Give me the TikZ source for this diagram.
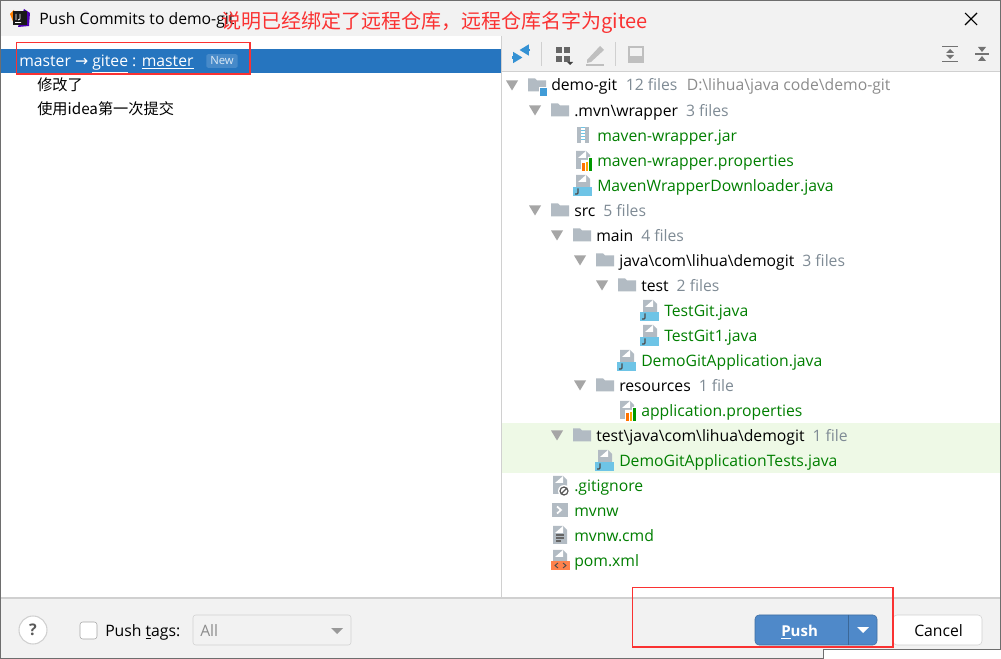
\documentclass[tikz,border=0pt]{standalone}
\usepackage{fontspec}
\setmainfont{Open Sans}
\newfontfamily\cjk{Noto Sans CJK SC}
\newfontfamily\symf{DejaVu Sans}
\usetikzlibrary{arrows.meta,positioning,calc}

\definecolor{barbg}{HTML}{F2F2F2}
\definecolor{linegray}{HTML}{D0D0D0}
\definecolor{framegray}{HTML}{6E6E6E}
\definecolor{selblue}{HTML}{2675BF}
\definecolor{pushblue}{HTML}{4F89C9}
\definecolor{annored}{HTML}{FA3232}
\definecolor{treegreen}{HTML}{007F00}
\definecolor{cntgray}{HTML}{7F8B95}
\definecolor{pathgray}{HTML}{8C8C8C}
\definecolor{icongray}{HTML}{B2BBC3}
\definecolor{iconblue}{HTML}{6EC4E6}
\definecolor{arrowblue}{HTML}{3592D4}
\definecolor{changedbg}{HTML}{EEF9E6}

\newcommand{\bs}{\textbackslash}

\tikzset{
  uitext/.style={anchor=base west, inner sep=0pt, font=\fontsize{11.8pt}{13pt}\selectfont},
  dirname/.style={uitext, text=black},
  filename/.style={uitext, text=treegreen},
  commitname/.style={uitext, font=\fontsize{11.4pt}{13pt}\selectfont\cjk},
  redbox/.style={draw=annored, line width=0.8pt},
  tri/.pic={\fill[gray!70] (-6,-4.5) -- (6,-4.5) -- (0,5.5) -- cycle;},
  foldericon/.pic={\fill[icongray] (-9,-6.5) -- (-2,-6.5) -- (0,-4.5) -- (9,-4.5) -- (9,6.5) -- (-9,6.5) -- cycle;},
  rootfolder/.pic={
    \fill[icongray] (-9,-6.5) -- (-2,-6.5) -- (0,-4.5) -- (9,-4.5) -- (9,6.5) -- (-9,6.5) -- cycle;
    \fill[white] (2,2) rectangle (10,11);
    \fill[arrowblue!80!iconblue] (3,3) rectangle (10,11);
  },
  pagebase/.pic={\fill[icongray] (-7,-9) -- (3,-9) -- (7,-5) -- (7,9) -- (-7,9) -- cycle;
    \fill[white] (-5,-2) -- (3,-9) -- (3,-2) -- cycle;},
  jaricon/.pic={
    \fill[icongray] (-6,-8) rectangle (6,8);
    \fill[white] (-2,-8) rectangle (2,8);
    \foreach \s in {-7,-4,...,7} {\fill[iconblue] (-2,\s-1) rectangle (2,\s);}
  },
  propicon/.pic={
    \pic {pagebase};
    \fill[white] (-2,0) -- (5,0) -- (5,-3) -- (10,-3) -- (10,11) -- (-2,11) -- cycle;
    \fill[orange!90!red] (-1,3) rectangle (2,11);
    \fill[orange!70!yellow] (3,2) rectangle (5,11);
    \fill[green!60!black] (6,-2) rectangle (9,11);
  },
  javaicon/.pic={
    \pic at (0,-1) {pagebase};
    \fill[iconblue] (-10,2) rectangle (9,11);
    \draw[black!70, line width=0.9pt] (-5,3.5) -- (-5,8) -- (-6,9) -- (-8,9);
  },
  ignoreicon/.pic={
    \pic {pagebase};
    \fill[white] (4,6) circle (6);
    \draw[black!65, line width=0.9pt] (4,6) circle (4) (1.5,8.5) -- (6.5,3.5);
  },
  termicon/.pic={
    \fill[icongray] (-8,-7) rectangle (8,7);
    \draw[white, line width=1.3pt] (-3,-3.5) -- (1,0) -- (-3,3.5);
  },
  cmdicon/.pic={
    \pic {pagebase};
    \draw[black!60, line width=0.8pt] (-4,0) -- (4,0) (-4,3) -- (4,3) (-4,6) -- (1,6);
  },
  xmlicon/.pic={
    \pic at (0,-1) {pagebase};
    \fill[orange!60!red!70!white] (-9,1) rectangle (10,10);
    \draw[black!70, line width=0.7pt] (-2,3) -- (-5,5.5) -- (-2,8) (3,3) -- (6,5.5) -- (3,8);
  }
}

\begin{document}
\begin{tikzpicture}[x=0.75pt, y=-0.75pt]
  \useasboundingbox (0,0) rectangle (1001,659);

  % Panels
  \fill[white] (0,0) rectangle (1001,659);
  \fill[barbg] (0,0) rectangle (1001,36);
  \fill[barbg] (502,36) rectangle (1001,71);
  \fill[changedbg] (502,423) rectangle (1001,473);
  \fill[barbg] (0,598) rectangle (1001,659);
  \fill[selblue] (1,49) rectangle (501,73);
  \draw[linegray] (501.5,36) -- (501.5,598);
  \draw[linegray] (502,71.5) -- (1001,71.5);
  \draw[linegray, line width=1.3pt] (0,598) -- (1001,598);

  % Title bar
  \fill[orange] (10,14) -- (14,10) -- (14,24) -- cycle;
  \fill[blue!70!red] (24,9) -- (30,13) -- (29,26) -- (18,27) -- cycle;
  \fill[black!90] (13,11) rectangle (27,25);
  \draw[white, line width=0.6pt] (16,14) -- (16,20) (20,14) -- (20,19) -- (18,20) (15,22.5) -- (21,22.5);
  \node[uitext] (title) at (39,25) {Push Commits to demo-git};
  \draw[line width=0.8pt] (965,13) -- (977,25) (977,13) -- (965,25);

  % Commit list
  \node[uitext, text=white] (branch) at (19,66.5) {master {\symf →} \underline{gitee} : \underline{master}};
  \node[fill=white!15!selblue, rounded corners=1.5pt, inner xsep=3pt, inner ysep=2pt, text=white!85!selblue, font=\fontsize{8.5pt}{10pt}\selectfont] (newtag) at (222,61) {New};
  \node[commitname] (commita) at (37,91) {修改了};
  \node[commitname] (commitb) at (37,115) {使用idea第一次提交};

  % Toolbar
  \draw[-{Stealth[length=7pt,width=8pt,inset=0pt]}, arrowblue, line width=1.6pt] (512,57.5) -- (522.5,57.5);
  \draw[-{Stealth[length=7pt,width=8pt,inset=0pt]}, arrowblue, line width=1.6pt] (530,50) -- (519.5,50);
  \foreach \x in {541,615} {
    \draw[linegray] (\x.5,42) -- (\x.5,66);
  }
  \foreach \x/\y in {556/47, 564/47, 556/56, 564/56} {
    \fill[black!60] (\x,\y) rectangle ++(6,6);
  }
  \fill[black!75] (567,62) -- (573,62) -- (570,65) -- cycle;
  \fill[black!25] (587,60) -- (600,46) -- (604,50) -- (591,62) -- (587,63) -- cycle;
  \fill[black!25] (586,64) rectangle (604,66);
  \fill[black!25] (628,46) rectangle (644,63);
  \fill[barbg] (630,48) rectangle (642,56);
  \draw[black!55, line width=1.3pt] (942,46.5) -- (958,46.5) (942,61.5) -- (958,61.5);
  \fill[black!55] (950,49) -- (954,53) -- (946,53) -- cycle (950,59) -- (954,55) -- (946,55) -- cycle;
  \draw[black!55, line width=1.3pt] (975,54) -- (989,54);
  \fill[black!55] (982,52) -- (978,47) -- (986,47) -- cycle (982,56) -- (978,61) -- (986,61) -- cycle;

  % Tree folders
  \pic at (512,85) {tri};
  \pic at (537,85) {rootfolder};
  \node[dirname] (root) at (551,91) {demo-git\hspace{6.5pt}{\color{cntgray}12 files}\hspace{7pt}{\color{pathgray}D:\bs lihua\bs java code\bs demo-git}};
  \foreach \x/\y/\name/\cnt in {
      574/110/.mvn\bs wrapper/3 files,
      574/210/src/5 files,
      596/235/main/4 files,
      619/260/java\bs com\bs lihua\bs demogit/3 files,
      641/285/test/2 files,
      619/385/resources/1 file,
      596/435/test\bs java\bs com\bs lihua\bs demogit/1 file} {
    \pic at (\x-39,\y) {tri};
    \pic at (\x-14,\y) {foldericon};
    \node[dirname] (dir\y) at (\x,\y+6.5) {\name\hspace{6pt}{\color{cntgray}\cnt}};
  }

  % Tree files
  \foreach \x/\y/\kind/\name in {
      597/135/jaricon/maven-wrapper.jar,
      597/160/propicon/maven-wrapper.properties,
      597/185/javaicon/MavenWrapperDownloader.java,
      664/310/javaicon/TestGit.java,
      664/335/javaicon/TestGit1.java,
      641/360/javaicon/DemoGitApplication.java,
      641/410/propicon/application.properties,
      619/460/javaicon/DemoGitApplicationTests.java,
      574/485/ignoreicon/.gitignore,
      574/510/termicon/mvnw,
      574/535/cmdicon/mvnw.cmd,
      574/560/xmlicon/pom.xml} {
    \pic at (\x-14,\y) {\kind};
    \node[filename] (file\y) at (\x,\y+6.5) {\name};
  }

  % Bottom bar
  \node[circle, draw=linegray, fill=white, line width=0.8pt, minimum size=21pt, inner sep=0pt, text=black!65, font=\fontsize{12pt}{14pt}\bfseries\selectfont] (help) at (33,630) {?};
  \draw[black!35, fill=white, rounded corners=2pt] (80,622) rectangle (97,639);
  \node[uitext] (tags) at (105,636) {Push \underline{t}ags:};
  \draw[linegray, fill=barbg, rounded corners=2pt] (193,615) rectangle (351,645);
  \node[uitext, text=black!45] (combo) at (200,636) {All};
  \fill[black!40] (331,628) -- (343,628) -- (337,634) -- cycle;
  \draw[pushblue!80!black, fill=pushblue, rounded corners=3pt] (755,615) rectangle (877,645);
  \draw[pushblue!75!black] (848.5,615) -- (848.5,645);
  \node[uitext, text=white, font=\fontsize{11.25pt}{13pt}\selectfont\bfseries] (push) at (781,636) {\underline{P}ush};
  \fill[white] (857,627) -- (869,627) -- (863,633) -- cycle;
  \draw[linegray, fill=white, rounded corners=3pt] (893,615) rectangle (982,645);
  \node[uitext] (cancel) at (914,636) {Cancel};

  % Window frame
  \draw[framegray, line width=1pt] (823.5,659) |- (1001,649.5);
  \fill[white] (824,650) rectangle (1001,659);
  \draw[framegray, line width=1.2pt] (0.5,0.5) -- (1000.5,0.5) -- (1000.5,649) (0.5,0.5) -- (0.5,658.5) -- (823.5,658.5);

  % Annotation
  \draw[redbox] (16.5,42.5) rectangle (250,74);
  \draw[redbox] (632.5,587.5) rectangle (893,647);
  \node[uitext, text=annored, font=\fontsize{15pt}{18pt}\selectfont\cjk] (anno) at (221,29) {说明已经绑定了远程仓库，远程仓库名字为gitee};
\end{tikzpicture}
\end{document}
